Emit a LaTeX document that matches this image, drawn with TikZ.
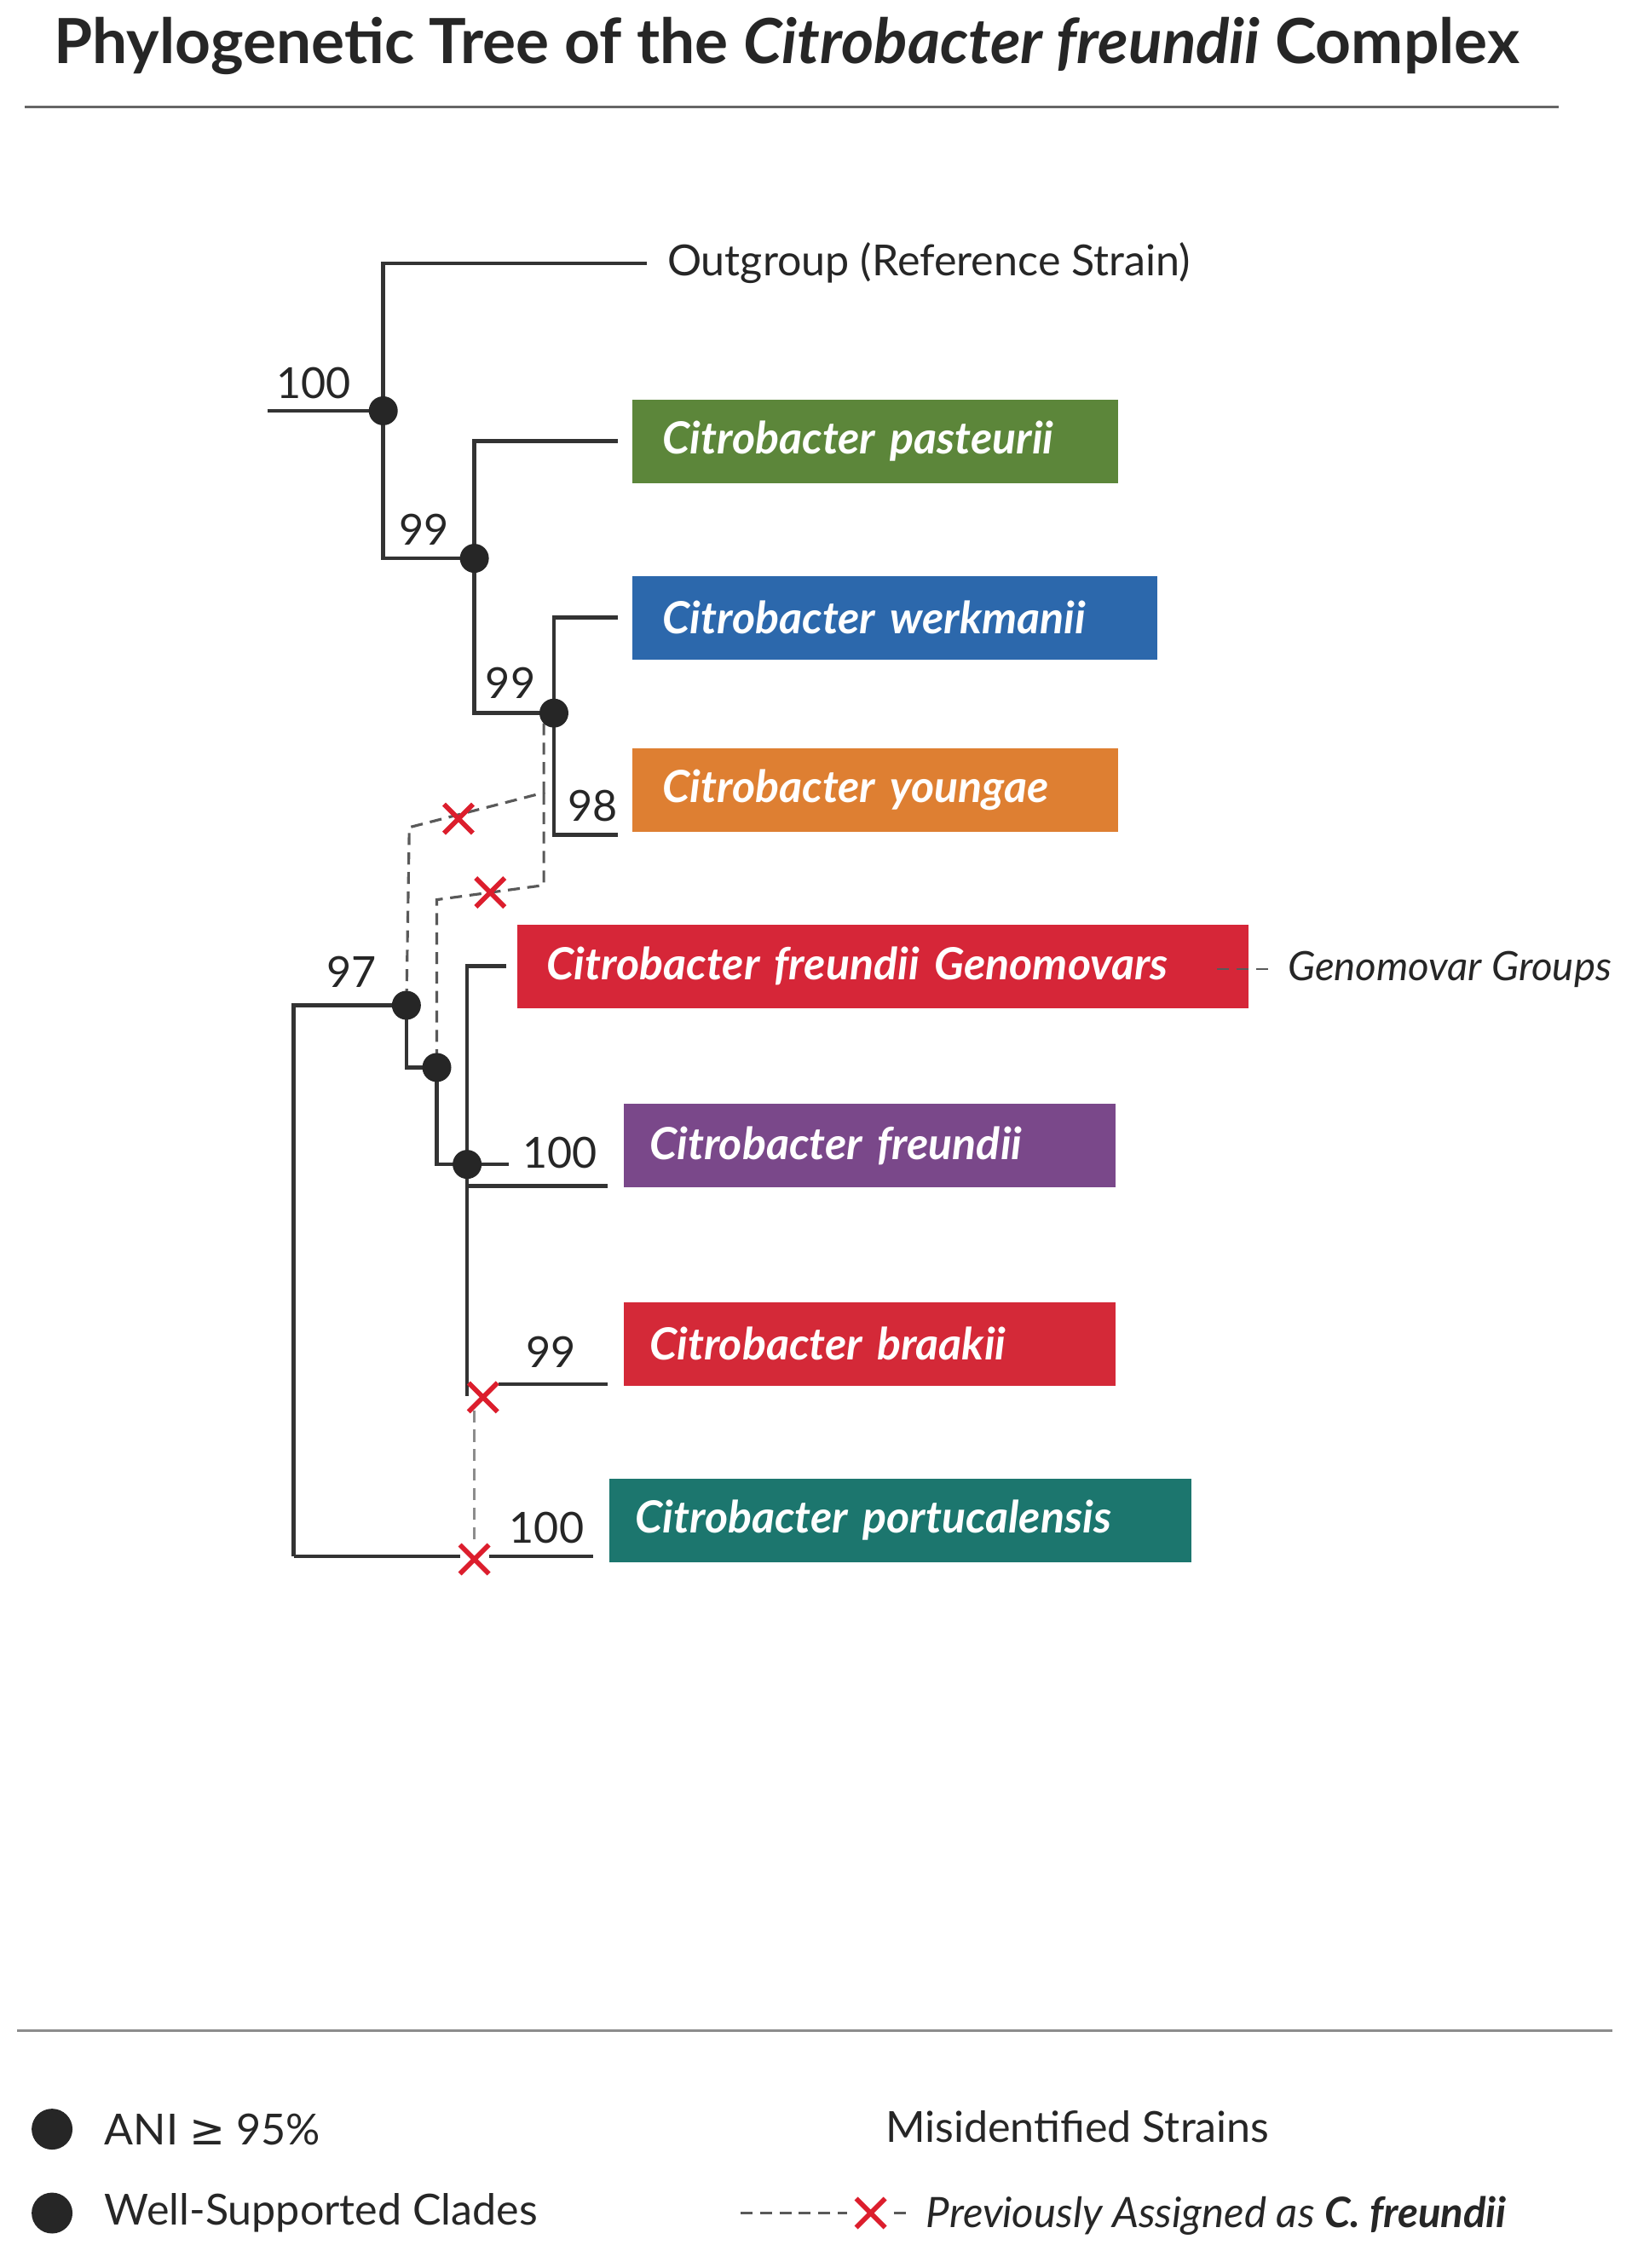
\documentclass[tikz,border=0pt]{standalone}
\usepackage{fontspec}
\setmainfont{Lato}
\newfontfamily\dvs{DejaVu Sans}
\definecolor{cpas}{RGB}{92,134,58}
\definecolor{cwer}{RGB}{44,104,172}
\definecolor{cyou}{RGB}{222,127,50}
\definecolor{cgen}{RGB}{214,38,56}
\definecolor{cfre}{RGB}{122,72,138}
\definecolor{cbra}{RGB}{212,41,56}
\definecolor{cpor}{RGB}{28,118,110}
\definecolor{cx}{RGB}{220,30,45}
\begin{document}
\begin{tikzpicture}[x=0.01698cm,y=-0.01698cm,
  br/.style={line width=1.3pt,draw=black!80},
  dsh/.style={line width=0.9pt,draw=black!65,dash pattern=on 4pt off 2.5pt},
  dot/.style={circle,fill=black!85,inner sep=0pt,minimum size=0.34cm},
  lab/.style={font=\fontsize{14.3}{16}\selectfont,text=black!85,inner sep=0pt},
  box/.style={fill=#1,text=white,font=\fontsize{14.8}{17}\selectfont\bfseries\itshape,anchor=west,inner sep=0pt,minimum height=0.98cm,align=left},
  xm/.pic={\draw[cx,line width=1.6pt] (-10,-10)--(10,10) (-10,10)--(10,-10);}]
\useasboundingbox[fill=white] (0,0) rectangle (1128,1568);
% title
\node[anchor=west,font=\fontsize{20.8}{24}\selectfont\bfseries,text=black!85,inner sep=0pt] (title) at (37,32) {Phylogenetic Tree of the \textit{Citrobacter freundii} Complex};
\draw[line width=1pt,black!60] (17,74) -- (1078,74);
\draw[line width=0.8pt,black!45] (12,1404) -- (1115,1404);
% coordinates
\coordinate (r0) at (185,284); \coordinate (r) at (265,284);
\coordinate (og) at (447,182);
\coordinate (n1) at (328,386);
\coordinate (n2) at (383,493);
\coordinate (n97) at (281,695);
\coordinate (n3) at (302,738);
\coordinate (n4) at (323,805);
% boxes
\node[box=cpas,text width=5.7cm] (pas) at (437,305) {\hspace{0.35cm}Citrobacter pasteurii};
\node[box=cwer,text width=6.16cm] (wer) at (437,427) {\hspace{0.35cm}Citrobacter werkmanii};
\node[box=cyou,text width=5.7cm] (you) at (437,546) {\hspace{0.35cm}Citrobacter youngae};
\node[box=cgen,text width=8.59cm] (gen) at (357,668) {\hspace{0.35cm}Citrobacter freundii Genomovars};
\node[box=cfre,text width=5.77cm] (fre) at (431,792) {\hspace{0.3cm}Citrobacter freundii};
\node[box=cbra,text width=5.77cm] (bra) at (431,929) {\hspace{0.3cm}Citrobacter braakii};
\node[box=cpor,text width=6.83cm] (por) at (421,1051) {\hspace{0.3cm}Citrobacter portucalensis};
\node[lab,anchor=west] (ogl) at (461,182) {Outgroup (Reference Strain)};
\node[lab,anchor=west,font=\fontsize{13.5}{16}\selectfont\itshape] (gg) at (890,670) {Genomovar Groups};
\draw[dsh,line width=0.7pt] (gen.east) ++(-22,2) -- ([xshift=-4pt]gg.west);
% branches
\draw[br] (r0) -- (r);
\draw[br] (og) -| (r) |- (n1);
\draw[br] (pas.west) ++(-10,0) -| (n1) |- (n2);
\draw[br] (wer.west) ++(-10,0) -| (n2) |- (427,577);
\draw[br] (203,1076) |- (n97) |- (n3) |- (n4) -- (352,805);
\draw[br] (gen.west) ++(-7,0) -| (n4) -- (323,965);
\draw[br] (323,820) -- (420,820);
\draw[br] (345,957) -- (420,957);
\draw[br] (203,1076) -- (318,1076) (338,1076) -- (410,1076);
% dashed misidentification paths
\draw[dsh] (376,500) -- (376,548) -- (283,572) -- (n97);
\draw[dsh] (376,548) -- (376,612) -- (302,622) -- (n3);
\draw[dsh,draw=black!45] (328,975) -- (328,1068);
% dots
\foreach \n in {r,n1,n2,n97,n3,n4} \node[dot] at (\n) {};
\pic at (317,566) {xm}; \pic at (339,617) {xm};
\pic at (334,966) {xm}; \pic at (328,1078) {xm};
% support values
\node[lab] (s1) at (217,265) {100};
\node[lab] (s2) at (293,366) {99};
\node[lab] (s3) at (353,472) {99};
\node[lab] (s4) at (410,557) {98};
\node[lab] (s5) at (243,672) {97};
\node[lab] (s6) at (387,797) {100};
\node[lab] (s7) at (381,935) {99};
\node[lab] (s8) at (378,1056) {100};
% legend
\node[dot,minimum size=0.48cm] (l1) at (36,1472) {}; \node[dot,minimum size=0.48cm] (l2) at (36,1530) {};
\node[lab,anchor=west] (t1) at (72,1472) {ANI {\dvs≥} 95\%};
\node[lab,anchor=west] (t2) at (72,1530) {Well-Supported Clades};
\node[lab] (t3) at (745,1470) {Misidentified Strains};
\coordinate (d0) at (512,1530);
\pic at (602,1530) {xm};
\draw[dsh,line width=0.7pt] (d0) -- (586,1530) (618,1530) -- (630,1530);
\node[lab,anchor=west,font=\fontsize{14}{16}\selectfont\itshape] (t4) at (640,1532) {Previously Assigned as \textbf{C. freundii}};
\end{tikzpicture}
\end{document}
